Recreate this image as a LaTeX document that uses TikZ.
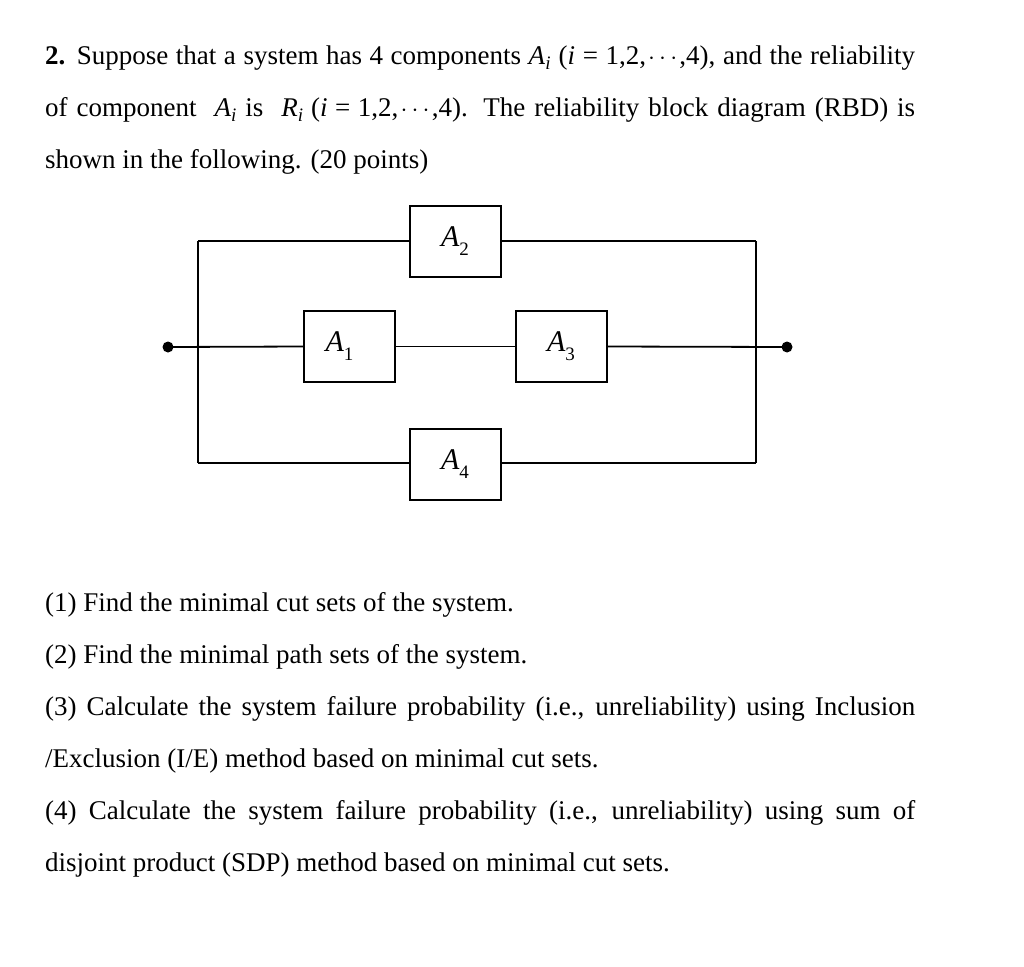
\documentclass[tikz,border=0pt]{standalone}
\usepackage{fontspec}
\setmainfont{Liberation Serif}
\begin{document}
\begin{tikzpicture}[x=1pt,y=-1pt,
  blk/.style={draw,line width=2pt,minimum width=91pt,minimum height=71pt,inner sep=0pt,font=\fontsize{30}{30}\selectfont},
  wire/.style={line width=1.8pt},
  dot/.style={circle,fill=black,inner sep=0pt,minimum size=11pt},
  txt/.style={anchor=base west,inner sep=0pt,font=\fontsize{27}{52}\selectfont}]
\useasboundingbox[fill=white] (0,0) rectangle (1024,966);
\newcommand{\blab}[1]{\textit{A}\raisebox{-0.3em}{\fontsize{19}{19}\selectfont #1}}
\newcommand{\mvar}[2]{\textit{#1}\raisebox{-0.22em}{\fontsize{19}{19}\selectfont\textit{#2}}}
\newcommand{\irange}{(\textit{i}\hspace{0.28em}=\hspace{0.28em}1,2,\hspace{0.08em}$\cdots$\hspace{0.08em},4)}
% text
\node[txt] (l1) at (45,64) {\makebox[870pt][s]{\textbf{2.} Suppose that a system has 4 components \mvar{A}{i}\hspace{0.3em}\irange, and the reliability}};
\node[txt] (l2) at (45,116) {\makebox[870pt][s]{of component \ \mvar{A}{i} is \ \mvar{R}{i}\hspace{0.3em}\irange. The reliability block diagram (RBD) is}};
\node[txt] (l3) at (45,168) {shown in the following. (20 points)};
\node[txt] (q1) at (45,611) {(1) Find the minimal cut sets of the system.};
\node[txt] (q2) at (45,663) {(2) Find the minimal path sets of the system.};
\node[txt] (q3a) at (45,715) {\makebox[870pt][s]{(3) Calculate the system failure probability (i.e., unreliability) using Inclusion}};
\node[txt] (q3b) at (45,767) {/Exclusion (I/E) method based on minimal cut sets.};
\node[txt] (q4a) at (45,819) {\makebox[870pt][s]{(4) Calculate the system failure probability (i.e., unreliability) using sum of}};
\node[txt] (q4b) at (45,871) {disjoint product (SDP) method based on minimal cut sets.};
% diagram
\node[blk] (A2) at (455,241) {\blab{2}};
\node[blk] (A1) at (349.5,346.5) {\hspace*{-20pt}\blab{1}};
\node[blk] (A3) at (561,346.5) {\blab{3}};
\node[blk] (A4) at (455,464) {\blab{4}};
\node[dot] (in) at (168,347) {};
\node[dot] (out) at (787,347) {};
\coordinate (TL) at (198,241);
\coordinate (TR) at (756,241);
\coordinate (BL) at (198,463);
\coordinate (BR) at (756,463);
\draw[wire] (in.center) -- (A1.west);
\draw[wire] (A1.east) -- (A3.west);
\draw[wire] (A3.east) -- (out.center);
\draw[wire] (TL) -- (A2.west);
\draw[wire] (A2.east) -- (TR);
\draw[wire] (BL) -- (A4.west |- BL);
\draw[wire] (A4.east |- BR) -- (BR);
\draw[wire] (TL) -- (BL);
\draw[wire] (TR) -- (BR);
\end{tikzpicture}
\end{document}
